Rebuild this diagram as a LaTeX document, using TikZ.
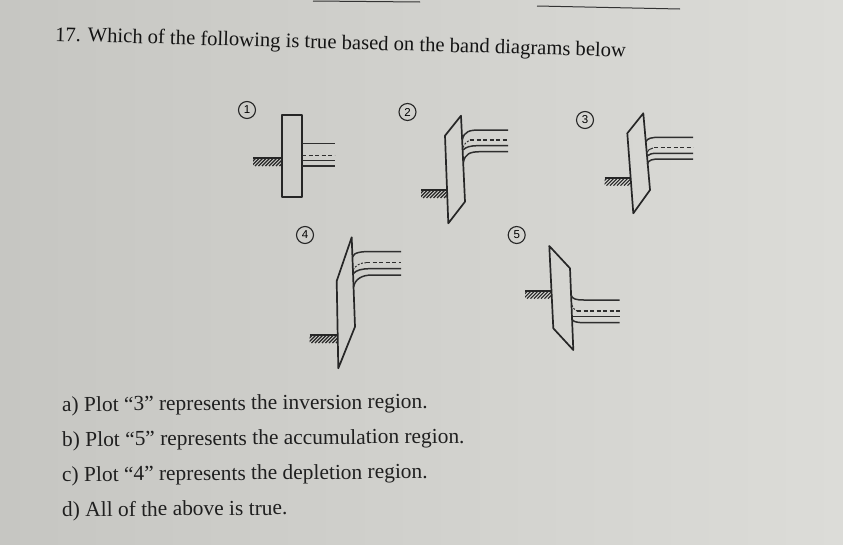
\documentclass[tikz,border=0pt]{standalone}
\usepackage{fontspec}
\setmainfont{Liberation Serif}
\newfontfamily\numfont{Liberation Sans}
\begin{document}
\begin{tikzpicture}[x=1pt,y=-1pt,
  ink/.style={line width=1.7pt,line join=round,black!85},
  thin ink/.style={line width=1pt,black!80},
  bandline/.style={line width=1.5pt,black!82},
  dashband/.style={line width=1.5pt,black!82,dash pattern=on 4pt off 2.5pt},
  smalldash/.style={line width=1pt,black!80,dash pattern=on 2pt off 1.5pt},
  numcirc/.style={circle,draw=black!85,line width=1.1pt,minimum size=17pt,inner sep=0pt,font=\numfont\fontsize{11.5}{11.5}\selectfont},
  qtext/.style={anchor=west,inner sep=0pt,font=\fontsize{20.6}{24}\selectfont,text=black!92},
  opttext/.style={anchor=west,inner sep=0pt,font=\fontsize{21.4}{24}\selectfont,text=black!88}]
\useasboundingbox (0,0) rectangle (843,544);
\shade[left color={rgb,255:red,198;green,198;blue,194},right color={rgb,255:red,220;green,220;blue,216}] (0,0) rectangle (843,544);
% blanks at top
\draw[thin ink] (313,1) -- (420,2);
\draw[thin ink] (537,6) -- (680,9);
% question
\node[qtext,rotate=-1.6] (q) at (55,36) {17. Which of the following is true based on the band diagrams below};
% hatch macro
\newcommand{\metal}[3]{% x1,x2,ytop
  \begin{scope}
    \clip (#1,#3) rectangle (#2,#3+8);
    \foreach \k in {-12,-8.5,...,40} {\draw[line width=1.1pt,black!85] (#1+\k,#3+8) -- (#1+\k+8,#3);}
  \end{scope}
  \draw[ink] (#1,#3) -- (#2,#3);}
% ---------- diagram 1
\node[numcirc] (n1) at (247,110) {1};
\draw[ink] (282,115) rectangle (302,197);
\metal{253}{282}{158}
\draw[bandline] (302,143.3) -- (334.5,143.3);
\draw[dashband] (302,155.7) -- (334.5,155.7);
\draw[bandline] (302,160.7) -- (334.5,160.7);
\draw[bandline] (302,166) -- (334.5,166);
% ---------- diagram 2
\node[numcirc] (n2) at (407.5,112) {2};
\metal{421}{447.5}{190}
\draw[ink] (461,115.7) -- (445,135.7) -- (448.3,223.3) -- (465,201.7) -- cycle;
\draw[bandline] (462.3,140) .. controls (464,131) and (470,130) .. (480,130) -- (508,130);
\draw[dashband] (470,140) -- (508,140);
\draw[smalldash] (463,147.5) .. controls (465,143) and (467,141) .. (470,140);
\draw[bandline] (463,150) .. controls (466,147) and (470,145.7) .. (478,145.7) -- (508,145.7);
\draw[bandline] (463.5,162) .. controls (465,154) and (470,151.7) .. (480,151.7) -- (508,151.7);
% ---------- diagram 3
\node[numcirc] (n3) at (585,120) {3};
\metal{604.5}{630}{177.7}
\draw[ink] (643.3,113.3) -- (627.3,133.3) -- (633.3,213.3) -- (650,190) -- cycle;
\draw[bandline] (645.8,142) .. controls (647,138) and (652,137.3) .. (660,137.3) -- (693,137.3);
\draw[dashband] (654,147.7) -- (693,147.7);
\draw[line width=1pt,black!80] (646.5,153) .. controls (648,150) and (650,148.5) .. (653,148);
\draw[bandline] (647,156) .. controls (649,154) and (652,153.3) .. (657,153.3) -- (693,153.3);
\draw[bandline] (647.3,164) .. controls (648.5,160) and (652,159) .. (660,159) -- (693,159);
% ---------- diagram 4
\node[numcirc] (n4) at (305,235) {4};
\metal{309.5}{337.5}{335}
\draw[ink] (351.7,237.3) -- (355,326.7) -- (338.3,368.3) -- (336.7,281) -- cycle;
\draw[bandline] (352.4,257) .. controls (354,252) and (362,251.5) .. (372,251.5) -- (401,251.5);
\draw[dashband] (366,262.7) -- (401,262.7);
\draw[smalldash] (353,270) .. controls (356,265) and (360,263) .. (366,262.7);
\draw[bandline] (353,274) .. controls (356,270) and (362,268.7) .. (370,268.7) -- (401,268.7);
\draw[bandline] (353.6,287) .. controls (355,279) and (362,275) .. (372,275) -- (401,275);
% ---------- diagram 5
\node[numcirc] (n5) at (516.7,235) {5};
\metal{525}{551}{290.7}
\draw[ink] (549.3,246) -- (570,268.3) -- (573.3,350) -- (553.3,328.3) -- cycle;
\draw[bandline] (571.1,295) .. controls (572,299) and (576,300) .. (584,300) -- (619.5,300);
\draw[dashband] (577,311) -- (619.5,311);
\draw[smalldash] (571.8,305) .. controls (573,308) and (575,310.5) .. (577,311);
\draw[bandline] (572.5,316.7) -- (619.5,316.7);
\draw[bandline] (572.6,320) .. controls (574,322) and (578,322.7) .. (585,322.7) -- (619.5,322.7);
% ---------- options
\node[opttext,rotate=0.5] (oa) at (62,406.5) {a) Plot “3” represents the inversion region.};
\node[opttext,rotate=0.5] (ob) at (62,441.5) {b) Plot “5” represents the accumulation region.};
\node[opttext,rotate=0.5] (oc) at (62,476.5) {c) Plot “4” represents the depletion region.};
\node[opttext,rotate=0.5] (od) at (62,511.5) {d) All of the above is true.};
\end{tikzpicture}
\end{document}
